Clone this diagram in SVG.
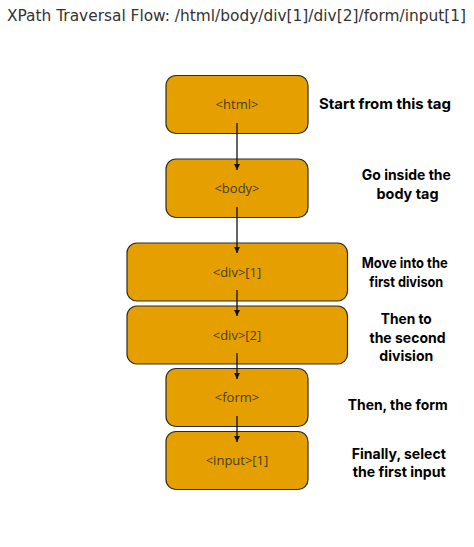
<svg xmlns="http://www.w3.org/2000/svg" width="474" height="547" viewBox="0 0 474 547">
<style>
.box{fill:#E5A000;stroke:#2b2b2b;stroke-width:1.2}
.lbl{font-family:"Open Sans","Liberation Sans",sans-serif;font-size:13px;fill:#4a3c18;text-anchor:middle}
.ann{font-family:"Inter","Liberation Sans",sans-serif;font-weight:700;font-size:14.5px;fill:#000;text-anchor:middle}
.title{font-family:"DejaVu Sans",sans-serif;font-size:15.5px;fill:#333}
.conn line{stroke:#111;stroke-width:1.3;marker-end:url(#ah)}
</style>
<defs>
<marker id="ah" viewBox="0 0 10 10" refX="10" refY="5" markerWidth="6" markerHeight="6" markerUnits="userSpaceOnUse" orient="auto">
<path d="M0,0 L10,5 L0,10 z" fill="#111"/>
</marker>
</defs>
<rect width="474" height="547" fill="#fff"/>
<text class="title" x="7" y="21" textLength="459" lengthAdjust="spacingAndGlyphs">XPath Traversal Flow: /html/body/div[1]/div[2]/form/input[1]</text>
<g id="n-html"><rect class="box" x="166" y="75.5" width="142" height="58" rx="10"/><text class="lbl" x="237" y="108.5">&lt;html&gt;</text></g>
<g id="n-body"><rect class="box" x="166" y="159" width="142" height="58.5" rx="10"/><text class="lbl" x="237" y="192.5">&lt;body&gt;</text></g>
<g id="n-div1"><rect class="box" x="127" y="243" width="220.5" height="58" rx="10"/><text class="lbl" x="237" y="276.5">&lt;div&gt;[1]</text></g>
<g id="n-div2"><rect class="box" x="127" y="306" width="220.5" height="58" rx="10"/><text class="lbl" x="237" y="339.5">&lt;div&gt;[2]</text></g>
<g id="n-form"><rect class="box" x="166" y="368.5" width="142" height="58" rx="10"/><text class="lbl" x="237" y="401.5">&lt;form&gt;</text></g>
<g id="n-input"><rect class="box" x="166" y="431.5" width="142" height="58" rx="10"/><text class="lbl" x="237" y="464.5">&lt;input&gt;[1]</text></g>
<g class="conn" id="connectors">
<line x1="237" y1="123" x2="237" y2="170"/>
<line x1="237" y1="207" x2="237" y2="253"/>
<line x1="237" y1="290" x2="237" y2="316"/>
<line x1="237" y1="353" x2="237" y2="379"/>
<line x1="237" y1="416" x2="237" y2="442"/>
</g>
<g id="annotations">
<text class="ann" x="385" y="109" textLength="132" lengthAdjust="spacingAndGlyphs">Start from this tag</text>
<text class="ann" x="406.3" y="180" textLength="89" lengthAdjust="spacingAndGlyphs">Go inside the</text>
<text class="ann" x="407.5" y="199" textLength="62" lengthAdjust="spacingAndGlyphs">body tag</text>
<text class="ann" x="404.7" y="268" textLength="86" lengthAdjust="spacingAndGlyphs">Move into the</text>
<text class="ann" x="406.3" y="287" textLength="74" lengthAdjust="spacingAndGlyphs">first divison</text>
<text class="ann" x="406.3" y="324" textLength="51" lengthAdjust="spacingAndGlyphs">Then to</text>
<text class="ann" x="407.5" y="343" textLength="76" lengthAdjust="spacingAndGlyphs">the second</text>
<text class="ann" x="406.3" y="361" textLength="54" lengthAdjust="spacingAndGlyphs">division</text>
<text class="ann" x="397.7" y="410" textLength="100" lengthAdjust="spacingAndGlyphs">Then, the form</text>
<text class="ann" x="398.8" y="459" textLength="94" lengthAdjust="spacingAndGlyphs">Finally, select</text>
<text class="ann" x="399.2" y="477" textLength="93" lengthAdjust="spacingAndGlyphs">the first input</text>
</g>
</svg>
